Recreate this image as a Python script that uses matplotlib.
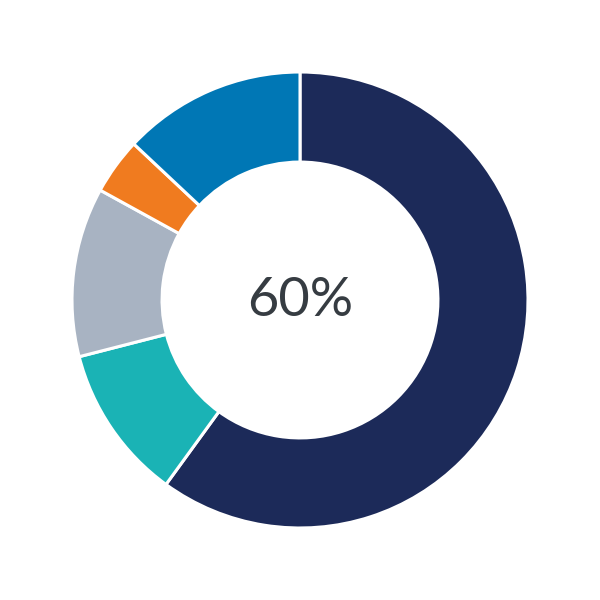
import matplotlib
matplotlib.use("Agg")
import matplotlib.pyplot as plt

# share of each segment, clockwise from 12 o'clock
labels = ["Navy", "Teal", "Gray", "Orange", "Blue"]
shares = [60, 11, 12, 4, 13]
colors = ["#1c2a59", "#1ab3b5", "#a8b3c2", "#f07b1f", "#0077b5"]
center_text = "60%"


fig = plt.figure(figsize=(6, 6), dpi=100)
ax = fig.add_axes([0, 0, 1, 1])

ax.pie(shares, colors=colors, startangle=90, counterclock=False,
       radius=1.0,
       wedgeprops=dict(width=0.395, edgecolor="white", linewidth=2.2))

ax.text(0, 0, center_text, ha="center", va="center",
        fontsize=39, color="#363c42", family=["Lato", "DejaVu Sans"],
        fontweight="normal")

lim = 300 / 228
ax.set_xlim(-lim, lim)
ax.set_ylim(-lim, lim)
ax.set_aspect("equal")
ax.axis("off")

fig.savefig("out.png", dpi=100, facecolor="white")
